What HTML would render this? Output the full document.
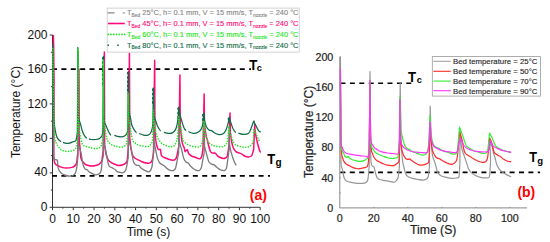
<!DOCTYPE html><html><head><meta charset="utf-8"><style>html,body{margin:0;padding:0;background:#fff;}svg{display:block;}text{font-family:"Liberation Sans",sans-serif;}</style></head><body>
<svg width="550" height="242" viewBox="0 0 550 242">
<rect width="550" height="242" fill="#fff"/>
<defs><mask id="dgmask" maskUnits="userSpaceOnUse" x="0" y="0" width="550" height="242"><rect width="550" height="242" fill="#fff"/><rect x="61.20" y="137.80" width="1.80" height="8" fill="#000"/><rect x="87.00" y="134.80" width="2.00" height="8" fill="#000"/><rect x="111.00" y="131.20" width="3.30" height="8" fill="#000"/><rect x="136.60" y="129.20" width="2.50" height="8" fill="#000"/><rect x="160.80" y="127.50" width="3.10" height="8" fill="#000"/><rect x="186.20" y="127.30" width="2.20" height="8" fill="#000"/><rect x="235.90" y="129.00" width="2.40" height="8" fill="#000"/></mask></defs>
<g stroke="#333" stroke-width="1" fill="none">
<path d="M52.50 35.00 V207.30 H260.20"/>
<path d="M49.70 207.30 H52.50"/>
<path d="M49.70 172.84 H52.50"/>
<path d="M49.70 138.38 H52.50"/>
<path d="M49.70 103.92 H52.50"/>
<path d="M49.70 69.46 H52.50"/>
<path d="M49.70 35.00 H52.50"/>
<path d="M50.90 190.07 H52.50"/>
<path d="M50.90 155.61 H52.50"/>
<path d="M50.90 121.15 H52.50"/>
<path d="M50.90 86.69 H52.50"/>
<path d="M50.90 52.23 H52.50"/>
<path d="M52.50 207.30 V210.20"/>
<path d="M73.27 207.30 V210.20"/>
<path d="M94.04 207.30 V210.20"/>
<path d="M114.81 207.30 V210.20"/>
<path d="M135.58 207.30 V210.20"/>
<path d="M156.35 207.30 V210.20"/>
<path d="M177.12 207.30 V210.20"/>
<path d="M197.89 207.30 V210.20"/>
<path d="M218.66 207.30 V210.20"/>
<path d="M239.43 207.30 V210.20"/>
<path d="M260.20 207.30 V210.20"/>
<path d="M62.88 207.30 V208.70"/>
<path d="M83.66 207.30 V208.70"/>
<path d="M104.42 207.30 V208.70"/>
<path d="M125.19 207.30 V208.70"/>
<path d="M145.97 207.30 V208.70"/>
<path d="M166.74 207.30 V208.70"/>
<path d="M187.50 207.30 V208.70"/>
<path d="M208.28 207.30 V208.70"/>
<path d="M229.04 207.30 V208.70"/>
<path d="M249.81 207.30 V208.70"/>
</g>
<g stroke="#000" stroke-width="1.8" fill="none" stroke-dasharray="5 4.39">
<path d="M52 69.10 H251"/>
<path d="M52 175.90 H270"/>
</g>
<g fill="none" stroke-linejoin="round" stroke-linecap="round">
<path d="M53.45 35.50 C53.55 42.92 53.95 72.58 54.05 80.00 C54.01 91.67 53.81 137.00 53.80 150.00 C53.79 163.00 53.90 156.00 54.00 158.00 C54.10 160.00 54.13 160.97 54.40 162.00 C54.67 163.03 55.08 163.62 55.60 164.20 C56.12 164.78 56.57 165.02 57.50 165.50 C58.43 165.98 59.77 166.68 61.20 167.10 C62.63 167.52 64.33 167.95 66.10 168.00 C67.87 168.05 70.30 167.80 71.80 167.40 C73.30 167.00 74.28 166.43 75.10 165.60 C75.92 164.77 76.24 164.67 76.70 162.40 C77.16 160.13 77.66 153.73 77.85 152.00 C78.03 138.17 78.77 82.83 78.95 69.00 C79.00 80.83 79.20 128.17 79.25 140.00 C79.44 142.00 80.14 149.08 80.40 152.00 C80.66 154.92 80.60 156.17 80.80 157.50 C81.00 158.83 81.27 159.28 81.60 160.00 C81.93 160.72 82.18 161.08 82.80 161.80 C83.42 162.52 84.37 163.68 85.30 164.30 C86.23 164.92 87.27 165.22 88.40 165.50 C89.53 165.78 90.87 166.00 92.10 166.00 C93.33 166.00 94.67 165.78 95.80 165.50 C96.93 165.22 98.07 164.82 98.90 164.30 C99.73 163.78 100.28 163.13 100.80 162.40 C101.32 161.67 101.59 161.97 102.00 159.90 C102.41 157.83 103.04 151.65 103.25 150.00 C103.43 133.67 104.17 68.33 104.35 52.00 C104.40 67.50 104.60 129.50 104.65 145.00 C104.81 146.17 105.31 150.25 105.60 152.00 C105.89 153.75 106.13 154.57 106.40 155.50 C106.67 156.43 106.87 156.80 107.20 157.60 C107.53 158.40 107.78 159.50 108.40 160.30 C109.02 161.10 109.87 161.73 110.90 162.40 C111.93 163.07 113.37 163.80 114.60 164.30 C115.83 164.80 117.05 165.30 118.30 165.40 C119.55 165.50 120.95 165.20 122.10 164.90 C123.25 164.60 124.38 164.22 125.20 163.60 C126.02 162.98 126.60 162.43 127.00 161.20 C127.40 159.97 127.38 158.40 127.60 156.20 C127.82 154.00 128.22 149.37 128.35 148.00 C128.53 132.20 129.27 69.00 129.45 53.20 C129.50 67.33 129.70 123.87 129.75 138.00 C129.88 139.00 130.28 142.12 130.50 144.00 C130.72 145.88 130.77 147.45 131.10 149.30 C131.43 151.15 131.90 153.65 132.50 155.10 C133.10 156.55 133.85 157.25 134.70 158.00 C135.55 158.75 136.40 158.98 137.60 159.60 C138.80 160.22 140.45 161.12 141.90 161.70 C143.35 162.28 145.08 162.87 146.30 163.10 C147.52 163.33 148.35 163.33 149.20 163.10 C150.05 162.87 150.80 162.55 151.40 161.70 C152.00 160.85 152.44 159.78 152.80 158.00 C153.16 156.22 153.42 152.17 153.55 151.00 C153.73 135.87 154.47 75.33 154.65 60.20 C154.70 71.50 154.90 116.70 154.95 128.00 C155.04 129.67 155.26 135.33 155.50 138.00 C155.74 140.67 156.08 142.40 156.40 144.00 C156.72 145.60 157.07 146.72 157.40 147.60 C157.73 148.48 158.03 149.00 158.40 149.30 C158.77 149.60 159.28 149.40 159.60 149.40 C159.92 149.40 160.10 148.87 160.30 149.30 C160.50 149.73 160.58 150.95 160.80 152.00 C161.02 153.05 161.03 154.68 161.60 155.60 C162.17 156.52 163.05 156.90 164.20 157.50 C165.35 158.10 167.05 158.73 168.50 159.20 C169.95 159.67 171.75 160.28 172.90 160.30 C174.05 160.32 174.75 159.97 175.40 159.30 C176.05 158.63 176.23 158.52 176.80 156.30 C177.38 154.08 178.51 147.72 178.85 146.00 C179.03 134.17 179.77 86.83 179.95 75.00 C180.00 83.33 180.20 116.67 180.25 125.00 C180.41 126.67 180.94 132.50 181.20 135.00 C181.46 137.50 181.57 138.48 181.80 140.00 C182.03 141.52 182.22 142.87 182.60 144.10 C182.98 145.33 183.70 146.18 184.10 147.40 C184.50 148.62 184.72 150.83 185.00 151.40 C185.28 151.97 185.40 151.05 185.80 150.80 C186.20 150.55 186.97 149.52 187.40 149.90 C187.83 150.28 187.97 152.27 188.40 153.10 C188.83 153.93 189.32 154.33 190.00 154.90 C190.68 155.47 191.53 156.07 192.50 156.50 C193.47 156.93 194.70 157.12 195.80 157.50 C196.90 157.88 198.27 158.68 199.10 158.80 C199.93 158.92 200.30 158.85 200.80 158.20 C201.30 157.55 201.72 156.77 202.10 154.90 C202.47 153.03 202.89 148.32 203.05 147.00 C203.23 138.17 203.97 102.83 204.15 94.00 C204.20 99.17 204.40 119.83 204.45 125.00 C204.74 126.83 205.72 133.45 206.20 136.00 C206.67 138.55 206.93 138.87 207.30 140.30 C207.67 141.73 208.03 143.17 208.40 144.60 C208.77 146.03 209.15 147.73 209.50 148.90 C209.85 150.07 210.07 150.92 210.50 151.60 C210.93 152.28 211.47 152.75 212.10 153.00 C212.73 153.25 213.67 152.97 214.30 153.10 C214.93 153.23 215.37 153.33 215.90 153.80 C216.43 154.27 216.78 155.28 217.50 155.90 C218.22 156.52 219.22 157.08 220.20 157.50 C221.18 157.92 222.50 158.32 223.40 158.40 C224.30 158.48 224.97 158.33 225.60 158.00 C226.23 157.67 226.80 157.38 227.20 156.40 C227.60 155.42 227.71 153.83 228.00 152.10 C228.29 150.37 228.79 147.02 228.95 146.00 C229.13 140.50 229.87 118.50 230.05 113.00 C230.10 116.17 230.30 128.83 230.35 132.00 C230.56 133.58 231.11 138.87 231.60 141.50 C232.09 144.13 232.58 146.10 233.30 147.80 C234.02 149.50 234.83 150.82 235.90 151.70 C236.97 152.58 238.63 152.65 239.70 153.10 C240.77 153.55 241.43 153.88 242.30 154.40 C243.17 154.92 243.83 155.78 244.90 156.20 C245.97 156.62 247.57 157.00 248.70 156.90 C249.83 156.80 250.88 156.82 251.70 155.60 C252.52 154.38 253.32 150.60 253.65 149.60 C253.83 145.42 254.57 128.68 254.75 124.50 C254.80 125.58 255.00 129.92 255.05 131.00 C255.28 132.23 255.91 136.07 256.40 138.40 C256.89 140.73 257.45 142.93 258.00 145.00 C258.55 147.07 259.32 149.63 259.70 150.80 C260.08 151.97 260.20 151.80 260.30 152.00" stroke="#ff0a78" stroke-width="1.5"/>
<path d="M52.60 48.00 C52.73 63.33 53.27 124.67 53.40 140.00 C53.42 142.50 53.42 151.87 53.50 155.00 C53.58 158.13 53.65 158.05 53.90 158.80 C54.15 159.55 54.57 159.33 55.00 159.50 C55.43 159.67 56.10 159.63 56.50 159.80 C56.90 159.97 57.20 159.88 57.40 160.50 C57.60 161.12 57.62 162.42 57.70 163.50 C57.78 164.58 57.75 166.05 57.90 167.00 C58.05 167.95 58.27 168.43 58.60 169.20 C58.93 169.97 59.27 170.80 59.90 171.60 C60.53 172.40 61.37 173.35 62.40 174.00 C63.43 174.65 64.85 175.15 66.10 175.50 C67.35 175.85 68.77 176.10 69.90 176.10 C71.03 176.10 71.98 176.02 72.90 175.50 C73.82 174.98 74.75 174.40 75.40 173.00 C76.05 171.60 76.38 169.77 76.80 167.10 C77.22 164.43 77.72 158.68 77.90 157.00 C77.93 139.50 78.07 69.50 78.10 52.00 C78.13 67.50 78.27 129.50 78.30 145.00 C78.72 146.17 80.25 150.13 80.80 152.00 C81.35 153.87 81.27 154.27 81.60 156.20 C81.93 158.13 82.40 161.75 82.80 163.60 C83.20 165.45 83.58 166.37 84.00 167.30 C84.42 168.23 84.77 168.78 85.30 169.20 C85.83 169.62 86.58 169.38 87.20 169.80 C87.82 170.22 88.38 171.18 89.00 171.70 C89.62 172.22 90.18 172.48 90.90 172.90 C91.62 173.32 92.48 173.88 93.30 174.20 C94.12 174.52 94.97 174.80 95.80 174.80 C96.63 174.80 97.57 174.52 98.30 174.20 C99.03 173.88 99.68 173.73 100.20 172.90 C100.72 172.07 101.10 170.95 101.40 169.20 C101.70 167.45 101.68 164.60 102.00 162.40 C102.32 160.20 103.08 157.07 103.30 156.00 C103.33 140.33 103.47 77.67 103.50 62.00 C103.53 75.33 103.67 128.67 103.70 142.00 C104.05 143.42 105.32 148.33 105.80 150.50 C106.28 152.67 106.27 153.12 106.60 155.00 C106.93 156.88 107.38 159.97 107.80 161.80 C108.22 163.63 108.58 165.08 109.10 166.00 C109.62 166.92 110.18 166.88 110.90 167.30 C111.62 167.72 112.67 168.08 113.40 168.50 C114.13 168.92 114.68 169.28 115.30 169.80 C115.92 170.32 116.38 171.18 117.10 171.60 C117.82 172.02 118.77 172.10 119.60 172.30 C120.43 172.50 121.38 172.80 122.10 172.80 C122.82 172.80 123.28 172.80 123.90 172.30 C124.52 171.80 125.28 171.03 125.80 169.80 C126.32 168.57 126.60 166.97 127.00 164.90 C127.40 162.83 128.00 158.65 128.20 157.40 C128.23 144.17 128.37 91.23 128.40 78.00 C128.43 88.33 128.57 129.67 128.60 140.00 C129.00 141.33 130.47 145.97 131.00 148.00 C131.53 150.03 131.43 150.05 131.80 152.20 C132.17 154.35 132.72 158.97 133.20 160.90 C133.68 162.83 134.08 163.07 134.70 163.80 C135.32 164.53 136.18 165.02 136.90 165.30 C137.62 165.58 138.40 165.13 139.00 165.50 C139.60 165.87 139.77 166.82 140.50 167.50 C141.23 168.18 142.43 169.00 143.40 169.60 C144.37 170.20 145.45 170.73 146.30 171.10 C147.15 171.47 147.78 171.92 148.50 171.80 C149.22 171.68 150.00 171.37 150.60 170.40 C151.20 169.43 151.73 167.82 152.10 166.00 C152.47 164.18 152.53 161.83 152.80 159.50 C153.07 157.17 153.55 153.25 153.70 152.00 C153.73 142.50 153.87 104.50 153.90 95.00 C153.93 102.83 154.07 134.17 154.10 142.00 C154.42 143.58 155.42 148.73 156.00 151.50 C156.58 154.27 156.97 156.68 157.60 158.60 C158.23 160.52 158.98 161.98 159.80 163.00 C160.62 164.02 161.77 164.23 162.50 164.70 C163.23 165.17 163.55 165.25 164.20 165.80 C164.85 166.35 165.50 167.28 166.40 168.00 C167.30 168.72 168.52 169.67 169.60 170.10 C170.68 170.53 171.93 170.85 172.90 170.60 C173.87 170.35 174.75 169.95 175.40 168.60 C176.05 167.25 176.27 165.05 176.80 162.50 C177.33 159.95 178.30 154.83 178.60 153.30 C178.63 146.92 178.77 121.38 178.80 115.00 C178.83 119.17 178.97 135.83 179.00 140.00 C179.53 142.03 181.40 149.10 182.20 152.20 C183.00 155.30 183.17 156.97 183.80 158.60 C184.43 160.23 185.27 161.25 186.00 162.00 C186.73 162.75 187.57 162.57 188.20 163.10 C188.83 163.63 189.08 164.38 189.80 165.20 C190.52 166.02 191.50 167.18 192.50 168.00 C193.50 168.82 194.70 169.67 195.80 170.10 C196.90 170.53 198.20 170.93 199.10 170.60 C200.00 170.27 200.63 169.62 201.20 168.10 C201.77 166.58 202.02 163.97 202.50 161.50 C202.98 159.03 203.83 154.67 204.10 153.30 C204.13 148.08 204.27 127.22 204.30 122.00 C204.33 126.00 204.47 142.00 204.50 146.00 C204.95 147.73 206.43 153.70 207.20 156.40 C207.97 159.10 208.35 160.90 209.10 162.20 C209.85 163.50 210.85 163.75 211.70 164.20 C212.55 164.65 213.35 164.38 214.20 164.90 C215.05 165.42 215.73 166.47 216.80 167.30 C217.87 168.13 219.32 169.37 220.60 169.90 C221.88 170.43 223.55 170.72 224.50 170.50 C225.45 170.28 225.78 170.18 226.30 168.60 C226.82 167.02 227.13 164.10 227.60 161.00 C228.07 157.90 228.85 151.83 229.10 150.00 C229.13 146.33 229.27 131.67 229.30 128.00 C229.33 130.67 229.47 141.33 229.50 144.00 C229.73 145.23 230.35 149.10 230.90 151.40 C231.45 153.70 232.17 155.90 232.80 157.80 C233.43 159.70 234.17 161.62 234.70 162.80 C235.23 163.98 235.78 164.55 236.00 164.90" stroke="#7a7a7a" stroke-width="1.3"/>
<path d="M52.70 44.20 C52.88 56.50 53.62 105.70 53.80 118.00 C53.92 119.25 54.13 122.82 54.50 125.50 C54.87 128.18 55.48 131.95 56.00 134.10 C56.52 136.25 56.87 137.22 57.60 138.40 C58.33 139.58 59.48 140.53 60.40 141.20 C61.32 141.87 62.10 142.03 63.10 142.40 C64.10 142.77 65.32 143.28 66.40 143.40 C67.48 143.52 68.52 143.37 69.60 143.10 C70.68 142.83 71.85 142.25 72.90 141.80 C73.95 141.35 75.15 142.03 75.90 140.40 C76.65 138.77 77.15 133.40 77.40 132.00 C77.48 117.92 77.82 61.58 77.90 47.50 C77.98 59.25 78.32 106.25 78.40 118.00 C78.77 119.07 79.97 122.27 80.60 124.40 C81.23 126.53 81.48 128.82 82.20 130.80 C82.92 132.78 84.00 135.03 84.90 136.30 C85.80 137.57 86.50 137.87 87.60 138.40 C88.70 138.93 90.13 139.32 91.50 139.50 C92.87 139.68 94.45 139.68 95.80 139.50 C97.15 139.32 98.53 139.10 99.60 138.40 C100.67 137.70 101.63 137.03 102.20 135.30 C102.77 133.57 102.87 129.22 103.00 128.00 C103.08 116.07 103.42 68.33 103.50 56.40 C103.58 67.17 103.92 110.23 104.00 121.00 C104.20 121.52 104.83 123.27 105.20 124.10 C105.57 124.93 105.82 125.13 106.20 126.00 C106.58 126.87 107.00 128.17 107.50 129.30 C108.00 130.43 108.62 131.83 109.20 132.80 C109.78 133.77 110.12 134.67 111.00 135.10 C111.88 135.53 113.45 135.20 114.50 135.40 C115.55 135.60 116.15 136.05 117.30 136.30 C118.45 136.55 120.13 137.00 121.40 136.90 C122.67 136.80 123.93 136.38 124.90 135.70 C125.87 135.02 126.70 134.08 127.20 132.80 C127.70 131.52 127.78 128.80 127.90 128.00 C127.98 118.55 128.32 80.75 128.40 71.30 C128.48 78.08 128.82 105.22 128.90 112.00 C129.18 113.05 130.13 116.18 130.60 118.30 C131.07 120.42 131.17 122.90 131.70 124.70 C132.23 126.50 133.00 127.78 133.80 129.10 C134.60 130.42 135.58 131.87 136.50 132.60 C137.42 133.33 138.12 133.08 139.30 133.50 C140.48 133.92 142.15 134.83 143.60 135.10 C145.05 135.37 146.83 135.45 148.00 135.10 C149.17 134.75 149.88 134.17 150.60 133.00 C151.32 131.83 151.92 129.93 152.30 128.10 C152.68 126.27 152.80 123.02 152.90 122.00 C152.98 116.33 153.32 93.67 153.40 88.00 C153.48 92.67 153.82 111.33 153.90 116.00 C154.23 116.90 155.28 119.68 155.90 121.40 C156.52 123.12 156.85 124.77 157.60 126.30 C158.35 127.83 159.30 129.60 160.40 130.60 C161.50 131.60 162.85 131.83 164.20 132.30 C165.55 132.77 167.13 133.30 168.50 133.40 C169.87 133.50 171.23 133.53 172.40 132.90 C173.57 132.27 174.70 131.05 175.50 129.60 C176.30 128.15 176.73 126.47 177.20 124.20 C177.67 121.93 178.12 117.37 178.30 116.00 C178.38 114.52 178.72 108.58 178.80 107.10 C178.88 107.92 179.22 111.18 179.30 112.00 C179.50 112.73 179.93 114.38 180.50 116.40 C181.07 118.42 181.97 121.92 182.70 124.10 C183.43 126.28 183.90 128.23 184.90 129.50 C185.90 130.77 187.25 131.05 188.70 131.70 C190.15 132.35 192.05 133.30 193.60 133.40 C195.15 133.50 196.73 133.02 198.00 132.30 C199.27 131.58 200.40 130.45 201.20 129.10 C202.00 127.75 202.40 126.38 202.80 124.20 C203.20 122.02 203.47 117.37 203.60 116.00 C203.68 115.50 204.02 113.50 204.10 113.00 C204.18 114.33 204.52 119.67 204.60 121.00 C204.90 121.95 205.67 125.22 206.40 126.70 C207.13 128.18 208.15 129.25 209.00 129.90 C209.85 130.55 210.65 130.17 211.50 130.60 C212.35 131.03 213.02 131.87 214.10 132.50 C215.18 133.13 216.50 134.20 218.00 134.40 C219.50 134.60 221.73 134.53 223.10 133.70 C224.47 132.87 225.25 131.52 226.20 129.40 C227.15 127.28 228.37 122.40 228.80 121.00 C228.88 120.37 229.22 117.83 229.30 117.20 C229.38 117.67 229.72 119.53 229.80 120.00 C230.07 120.70 230.82 122.65 231.40 124.20 C231.98 125.75 232.55 127.92 233.30 129.30 C234.05 130.68 235.03 131.85 235.90 132.50 C236.77 133.15 237.22 132.88 238.50 133.20 C239.78 133.52 241.90 134.40 243.60 134.40 C245.30 134.40 247.43 134.25 248.70 133.20 C249.97 132.15 250.40 130.02 251.20 128.10 C252.00 126.18 253.12 122.77 253.50 121.70 C253.58 121.58 253.92 121.12 254.00 121.00 C254.08 121.33 254.42 122.67 254.50 123.00 C254.93 123.83 256.35 126.63 257.10 128.00 C257.85 129.37 258.47 130.55 259.00 131.20 C259.53 131.85 260.08 131.78 260.30 131.90" stroke="#0f6a45" stroke-width="1.25" mask="url(#dgmask)"/>
<path d="M103.00 57.00 V87.00 M128.00 72.00 V94.00 M153.00 88.50 V104.50 M178.30 107.50 V118.50 M203.00 114.00 V122.00 M228.70 117.80 V122.80" stroke="#0f6a45" stroke-width="1.9" stroke-dasharray="2.6 1.6" stroke-linecap="butt"/>
<path d="M52.80 48.60 C53.00 61.33 53.80 112.27 54.00 125.00 C54.15 127.17 54.52 134.95 54.90 138.00 C55.28 141.05 55.75 141.88 56.30 143.30 C56.85 144.72 57.43 145.43 58.20 146.50 C58.97 147.57 59.90 148.97 60.90 149.70 C61.90 150.43 63.02 150.62 64.20 150.90 C65.38 151.18 66.73 151.40 68.00 151.40 C69.27 151.40 70.63 151.25 71.80 150.90 C72.97 150.55 74.20 150.20 75.00 149.30 C75.80 148.40 76.18 147.38 76.60 145.50 C77.02 143.62 77.35 139.25 77.50 138.00 C77.58 123.17 77.92 63.83 78.00 49.00 C78.08 60.83 78.42 108.17 78.50 120.00 C78.75 122.33 79.33 129.97 80.00 134.00 C80.67 138.03 81.50 142.13 82.50 144.20 C83.50 146.27 84.68 145.83 86.00 146.40 C87.32 146.97 88.95 147.23 90.40 147.60 C91.85 147.97 93.35 148.50 94.70 148.60 C96.05 148.70 97.42 148.72 98.50 148.20 C99.58 147.68 100.48 147.20 101.20 145.50 C101.92 143.80 102.53 139.25 102.80 138.00 C102.88 125.00 103.22 73.00 103.30 60.00 C103.38 70.33 103.72 111.67 103.80 122.00 C104.17 124.08 105.37 131.40 106.00 134.50 C106.63 137.60 106.97 139.12 107.60 140.60 C108.23 142.08 108.88 142.58 109.80 143.40 C110.72 144.22 111.82 144.97 113.10 145.50 C114.38 146.03 116.05 146.32 117.50 146.60 C118.95 146.88 120.55 147.37 121.80 147.20 C123.05 147.03 124.20 146.40 125.00 145.60 C125.80 144.80 126.15 144.17 126.60 142.40 C127.05 140.63 127.52 136.23 127.70 135.00 C127.78 128.00 128.12 100.00 128.20 93.00 C128.28 97.50 128.62 115.50 128.70 120.00 C129.08 122.00 130.33 128.60 131.00 132.00 C131.67 135.40 132.05 138.60 132.70 140.40 C133.35 142.20 133.98 142.03 134.90 142.80 C135.82 143.57 136.75 144.43 138.20 145.00 C139.65 145.57 141.97 145.93 143.60 146.20 C145.23 146.47 146.83 146.88 148.00 146.60 C149.17 146.32 149.88 145.38 150.60 144.50 C151.32 143.62 151.93 143.05 152.30 141.30 C152.67 139.55 152.72 135.22 152.80 134.00 C152.88 130.00 153.22 114.00 153.30 110.00 C153.38 111.67 153.72 118.33 153.80 120.00 C154.23 122.37 155.58 130.92 156.40 134.20 C157.22 137.48 157.77 138.15 158.70 139.70 C159.63 141.25 160.72 142.50 162.00 143.50 C163.28 144.50 164.95 145.15 166.40 145.70 C167.85 146.25 169.43 146.78 170.70 146.80 C171.97 146.82 173.10 146.52 174.00 145.80 C174.90 145.08 175.55 143.87 176.10 142.50 C176.65 141.13 176.95 140.02 177.30 137.60 C177.65 135.18 178.05 129.60 178.20 128.00 C178.28 126.17 178.62 118.83 178.70 117.00 C178.78 117.50 179.12 119.50 179.20 120.00 C179.50 121.67 180.42 126.90 181.00 130.00 C181.58 133.10 182.05 136.53 182.70 138.60 C183.35 140.67 183.80 141.30 184.90 142.40 C186.00 143.50 187.67 144.47 189.30 145.20 C190.93 145.93 193.07 146.53 194.70 146.80 C196.33 147.07 198.02 147.15 199.10 146.80 C200.18 146.45 200.58 145.87 201.20 144.70 C201.82 143.53 202.43 142.25 202.80 139.80 C203.17 137.35 203.30 131.63 203.40 130.00 C203.48 128.50 203.82 122.50 203.90 121.00 C203.98 122.17 204.32 126.83 204.40 128.00 C204.73 129.60 205.63 135.15 206.40 137.60 C207.17 140.05 207.93 141.42 209.00 142.70 C210.07 143.98 211.32 144.65 212.80 145.30 C214.28 145.95 216.18 146.38 217.90 146.60 C219.62 146.82 221.72 147.02 223.10 146.60 C224.48 146.18 225.45 145.17 226.20 144.10 C226.95 143.03 227.23 142.22 227.60 140.20 C227.97 138.18 228.27 133.37 228.40 132.00 C228.48 131.00 228.82 127.00 228.90 126.00 C228.98 126.67 229.32 129.33 229.40 130.00 C229.83 131.48 231.13 136.57 232.00 138.90 C232.87 141.23 233.52 142.83 234.60 144.00 C235.68 145.17 237.00 145.37 238.50 145.90 C240.00 146.43 241.90 147.07 243.60 147.20 C245.30 147.33 247.33 147.22 248.70 146.70 C250.07 146.18 250.98 145.38 251.80 144.10 C252.62 142.82 253.32 141.02 253.60 139.00 C253.88 136.98 253.52 133.17 253.50 132.00 C253.58 131.50 253.92 129.50 254.00 129.00 C254.08 129.33 254.42 130.67 254.50 131.00 C255.03 132.10 256.85 135.73 257.70 137.60 C258.55 139.47 259.28 141.43 259.60 142.20" stroke="#22e622" stroke-width="1.6" stroke-dasharray="0.1 2.6"/>
</g>
<text x="47.50" y="210.90" font-size="12.00" fill="#111" text-anchor="end" font-weight="normal" >0</text>
<text x="47.50" y="176.44" font-size="12.00" fill="#111" text-anchor="end" font-weight="normal" >40</text>
<text x="47.50" y="141.98" font-size="12.00" fill="#111" text-anchor="end" font-weight="normal" >80</text>
<text x="47.50" y="107.52" font-size="12.00" fill="#111" text-anchor="end" font-weight="normal" >120</text>
<text x="47.50" y="73.06" font-size="12.00" fill="#111" text-anchor="end" font-weight="normal" >160</text>
<text x="47.50" y="38.60" font-size="12.00" fill="#111" text-anchor="end" font-weight="normal" >200</text>
<text x="52.50" y="222.60" font-size="12.00" fill="#111" text-anchor="middle" font-weight="normal" >0</text>
<text x="73.27" y="222.60" font-size="12.00" fill="#111" text-anchor="middle" font-weight="normal" >10</text>
<text x="94.04" y="222.60" font-size="12.00" fill="#111" text-anchor="middle" font-weight="normal" >20</text>
<text x="114.81" y="222.60" font-size="12.00" fill="#111" text-anchor="middle" font-weight="normal" >30</text>
<text x="135.58" y="222.60" font-size="12.00" fill="#111" text-anchor="middle" font-weight="normal" >40</text>
<text x="156.35" y="222.60" font-size="12.00" fill="#111" text-anchor="middle" font-weight="normal" >50</text>
<text x="177.12" y="222.60" font-size="12.00" fill="#111" text-anchor="middle" font-weight="normal" >60</text>
<text x="197.89" y="222.60" font-size="12.00" fill="#111" text-anchor="middle" font-weight="normal" >70</text>
<text x="218.66" y="222.60" font-size="12.00" fill="#111" text-anchor="middle" font-weight="normal" >80</text>
<text x="239.43" y="222.60" font-size="12.00" fill="#111" text-anchor="middle" font-weight="normal" >90</text>
<text x="260.20" y="222.60" font-size="12.00" fill="#111" text-anchor="middle" font-weight="normal" >100</text>
<text x="148.50" y="235.70" font-size="12.00" fill="#111" text-anchor="middle" font-weight="normal" >Time (s)</text>
<text x="0.00" y="0.00" font-size="12.00" fill="#111" text-anchor="middle" font-weight="normal" transform="translate(19.9,112.0) rotate(-90)">Temperature (°C)</text>
<text transform="translate(249.15,69.80) scale(0.850,1)" font-size="15.50" font-weight="bold" fill="#000">T</text><text x="256.85" y="70.90" font-size="9.20" font-weight="bold" fill="#000">c</text>
<text transform="translate(267.15,163.60) scale(0.900,1)" font-size="14.50" font-weight="bold" fill="#000">T</text><text x="275.60" y="165.70" font-size="10.00" font-weight="bold" fill="#000">g</text>
<text x="249.8" y="199.8" font-size="14" font-weight="bold" fill="#ff0000">(a)</text>
<rect x="107.2" y="8.1" width="192" height="44" fill="#fff" stroke="#c8c8c8" stroke-width="0.8"/>
<path d="M107.6 12.80 H114.5 M122.8 12.80 H124.6" stroke="#858585" stroke-width="1.3"/>
<text x="127.0" y="15.30" font-size="7.45" fill="#858585" stroke="#858585" stroke-width="0.12">T<tspan font-size="4.9" dy="1.6">Bed</tspan><tspan dy="-1.6"> 25°C, h= 0.1 mm, V = 15 mm/s, T</tspan><tspan font-size="4.9" dy="1.6">nozzle</tspan><tspan dy="-1.6"> = 240 °C</tspan></text>
<path d="M108 23.50 H124.8" stroke="#ff0a78" stroke-width="1.6"/>
<text x="127.0" y="26.00" font-size="7.45" fill="#ff0a78" stroke="#ff0a78" stroke-width="0.12">T<tspan font-size="4.9" dy="1.6">Bed</tspan><tspan dy="-1.6"> 45°C, h= 0.1 mm, V = 15 mm/s, T</tspan><tspan font-size="4.9" dy="1.6">nozzle</tspan><tspan dy="-1.6"> = 240 °C</tspan></text>
<path d="M108.2 34.40 H124.8" stroke="#22e622" stroke-width="1.7" stroke-dasharray="0.1 2.65" stroke-linecap="round"/>
<text x="127.0" y="36.90" font-size="7.45" fill="#22e622" stroke="#22e622" stroke-width="0.12">T<tspan font-size="4.9" dy="1.6">Bed</tspan><tspan dy="-1.6"> 60°C, h= 0.1 mm, V = 15 mm/s, T</tspan><tspan font-size="4.9" dy="1.6">nozzle</tspan><tspan dy="-1.6"> = 240 °C</tspan></text>
<path d="M107.6 45.20 H109 M117.2 45.20 H118.8" stroke="#0f6a45" stroke-width="1.5"/>
<text x="127.0" y="47.70" font-size="7.45" fill="#0f6a45" stroke="#0f6a45" stroke-width="0.12">T<tspan font-size="4.9" dy="1.6">Bed</tspan><tspan dy="-1.6"> 80°C, h= 0.1 mm, V = 15 mm/s, T</tspan><tspan font-size="4.9" dy="1.6">nozzle</tspan><tspan dy="-1.6"> = 240 °C</tspan></text>
<g stroke="#7a7a7a" stroke-width="0.9" fill="none">
<path d="M339.80 57.00 V207.90 H527.00"/>
<path d="M339.80 57.00 H341.00"/>
<path d="M339.80 192.81 H340.90" stroke-width="0.7"/>
<path d="M339.80 177.72 H340.90" stroke-width="0.7"/>
<path d="M339.80 162.63 H340.90" stroke-width="0.7"/>
<path d="M339.80 147.54 H340.90" stroke-width="0.7"/>
<path d="M339.80 132.45 H340.90" stroke-width="0.7"/>
<path d="M339.80 117.36 H340.90" stroke-width="0.7"/>
<path d="M339.80 102.27 H340.90" stroke-width="0.7"/>
<path d="M339.80 87.18 H340.90" stroke-width="0.7"/>
<path d="M339.80 72.09 H340.90" stroke-width="0.7"/>
<path d="M339.80 57.00 H340.90" stroke-width="0.7"/>
<path d="M373.80 207.90 V206.80" stroke-width="0.7"/>
<path d="M407.80 207.90 V206.80" stroke-width="0.7"/>
<path d="M441.80 207.90 V206.80" stroke-width="0.7"/>
<path d="M475.80 207.90 V206.80" stroke-width="0.7"/>
<path d="M509.80 207.90 V206.80" stroke-width="0.7"/>
</g>
<g stroke="#000" stroke-width="1.6" fill="none" stroke-dasharray="5 4.4">
<path d="M340.5 83.3 H411.8"/>
<path d="M340.4 172.4 H540"/>
</g>
<g fill="none" stroke-linejoin="round" stroke-linecap="round" stroke-width="1.2">
<path d="M340.40 57.30 C340.47 67.75 340.73 109.55 340.80 120.00 C340.83 126.67 340.88 152.25 341.00 160.00 C341.12 167.75 341.28 165.00 341.50 166.50 C341.72 168.00 342.07 168.17 342.30 169.00 C342.53 169.83 342.70 170.42 342.90 171.50 C343.10 172.58 343.20 174.25 343.50 175.50 C343.80 176.75 344.13 178.05 344.70 179.00 C345.27 179.95 345.80 180.65 346.90 181.20 C348.00 181.75 349.48 181.95 351.30 182.30 C353.12 182.65 355.80 183.13 357.80 183.30 C359.80 183.47 361.87 183.47 363.30 183.30 C364.73 183.13 365.63 182.93 366.40 182.30 C367.17 181.67 367.53 181.05 367.90 179.50 C368.27 177.95 368.38 175.25 368.60 173.00 C368.82 170.75 369.10 167.17 369.20 166.00 C369.33 150.25 369.87 87.25 370.00 71.50 C370.07 82.92 370.33 128.58 370.40 140.00 C370.47 143.00 370.65 154.00 370.80 158.00 C370.95 162.00 371.02 162.63 371.30 164.00 C371.58 165.37 372.05 165.70 372.50 166.20 C372.95 166.70 373.60 166.28 374.00 167.00 C374.40 167.72 374.53 169.08 374.90 170.50 C375.27 171.92 375.75 174.20 376.20 175.50 C376.65 176.80 377.03 177.63 377.60 178.30 C378.17 178.97 378.35 179.12 379.60 179.50 C380.85 179.88 383.28 180.25 385.10 180.60 C386.92 180.95 388.92 181.33 390.50 181.60 C392.08 181.87 393.57 182.43 394.60 182.20 C395.63 181.97 396.10 181.07 396.70 180.20 C397.30 179.33 397.83 178.45 398.20 177.00 C398.57 175.55 398.70 173.33 398.90 171.50 C399.10 169.67 399.32 166.92 399.40 166.00 C399.53 152.18 400.07 96.92 400.20 83.10 C400.30 90.92 400.70 122.18 400.80 130.00 C400.93 133.33 401.28 144.70 401.60 150.00 C401.92 155.30 402.33 159.05 402.70 161.80 C403.07 164.55 403.47 165.05 403.80 166.50 C404.13 167.95 404.33 169.15 404.70 170.50 C405.07 171.85 405.42 173.55 406.00 174.60 C406.58 175.65 407.12 176.17 408.20 176.80 C409.28 177.43 410.87 177.95 412.50 178.40 C414.13 178.85 416.17 179.22 418.00 179.50 C419.83 179.78 422.07 180.17 423.50 180.10 C424.93 180.03 425.82 179.70 426.60 179.10 C427.38 178.50 427.82 177.77 428.20 176.50 C428.58 175.23 428.70 173.25 428.90 171.50 C429.10 169.75 429.32 166.92 429.40 166.00 C429.53 156.03 430.07 116.17 430.20 106.20 C430.32 111.00 430.78 130.20 430.90 135.00 C431.03 137.17 431.40 144.42 431.70 148.00 C432.00 151.58 432.25 154.32 432.70 156.50 C433.15 158.68 433.85 159.45 434.40 161.10 C434.95 162.75 435.47 164.53 436.00 166.40 C436.53 168.27 436.78 170.75 437.60 172.30 C438.42 173.85 439.43 174.85 440.90 175.70 C442.37 176.55 444.58 176.95 446.40 177.40 C448.22 177.85 450.13 178.30 451.80 178.40 C453.47 178.50 455.22 178.25 456.40 178.00 C457.58 177.75 458.38 178.07 458.90 176.90 C459.42 175.73 459.33 173.48 459.50 171.00 C459.67 168.52 459.83 163.50 459.90 162.00 C459.90 156.50 459.90 134.50 459.90 129.00 C460.07 130.83 460.73 138.17 460.90 140.00 C461.05 141.43 461.28 146.05 461.80 148.60 C462.32 151.15 463.27 153.12 464.00 155.30 C464.73 157.48 465.47 159.50 466.20 161.70 C466.93 163.90 467.58 166.72 468.40 168.50 C469.22 170.28 470.02 171.28 471.10 172.40 C472.18 173.52 473.35 174.37 474.90 175.20 C476.45 176.03 478.58 176.95 480.40 177.40 C482.22 177.85 484.32 177.98 485.80 177.90 C487.28 177.82 488.58 178.38 489.30 176.90 C490.02 175.42 489.88 171.82 490.10 169.00 C490.32 166.18 490.52 161.50 490.60 160.00 C490.47 156.83 489.93 144.17 489.80 141.00 C490.00 141.50 490.80 143.50 491.00 144.00 C491.25 144.67 492.08 146.50 492.50 148.00 C492.92 149.50 493.07 151.33 493.50 153.00 C493.93 154.67 494.57 156.12 495.10 158.00 C495.63 159.88 496.07 162.53 496.70 164.30 C497.33 166.07 497.98 167.32 498.90 168.60 C499.82 169.88 500.93 171.00 502.20 172.00 C503.47 173.00 505.08 173.83 506.50 174.60 C507.92 175.37 510.00 176.27 510.70 176.60" stroke="#969696"/>
<path d="M340.40 75.00 C340.48 84.17 340.82 120.83 340.90 130.00 C341.00 133.72 341.23 147.72 341.50 152.30 C341.77 156.88 342.05 155.90 342.50 157.50 C342.95 159.10 343.47 160.72 344.20 161.90 C344.93 163.08 346.00 163.95 346.90 164.60 C347.80 165.25 348.68 165.33 349.60 165.80 C350.52 166.27 351.40 166.97 352.40 167.40 C353.40 167.83 354.52 168.15 355.60 168.40 C356.68 168.65 357.80 168.95 358.90 168.90 C360.00 168.85 361.10 168.35 362.20 168.10 C363.30 167.85 364.62 167.72 365.50 167.40 C366.38 167.08 367.00 167.27 367.50 166.20 C368.00 165.13 368.22 163.70 368.50 161.00 C368.78 158.30 369.08 151.83 369.20 150.00 C369.33 138.67 369.87 93.33 370.00 82.00 C370.10 90.83 370.50 126.17 370.60 135.00 C370.73 137.50 371.08 146.92 371.40 150.00 C371.72 153.08 372.13 152.42 372.50 153.50 C372.87 154.58 373.05 155.47 373.60 156.50 C374.15 157.53 375.15 158.97 375.80 159.70 C376.45 160.43 376.87 160.52 377.50 160.90 C378.13 161.28 378.70 161.55 379.60 162.00 C380.50 162.45 381.62 163.07 382.90 163.60 C384.18 164.13 385.85 164.85 387.30 165.20 C388.75 165.55 390.42 165.67 391.60 165.70 C392.78 165.73 393.45 165.80 394.40 165.40 C395.35 165.00 396.55 164.03 397.30 163.30 C398.05 162.57 398.53 163.22 398.90 161.00 C399.27 158.78 399.40 151.83 399.50 150.00 C399.58 141.67 399.92 108.33 400.00 100.00 C400.08 106.67 400.42 133.33 400.50 140.00 C400.62 141.00 400.92 144.12 401.20 146.00 C401.48 147.88 401.77 149.72 402.20 151.30 C402.63 152.88 403.17 154.25 403.80 155.50 C404.43 156.75 405.27 158.15 406.00 158.80 C406.73 159.45 407.57 159.38 408.20 159.40 C408.83 159.42 409.25 158.73 409.80 158.90 C410.35 159.07 410.68 159.78 411.50 160.40 C412.32 161.02 413.43 161.87 414.70 162.60 C415.97 163.33 417.63 164.43 419.10 164.80 C420.57 165.17 422.08 165.05 423.50 164.80 C424.92 164.55 426.72 163.93 427.60 163.30 C428.48 162.67 428.50 163.22 428.80 161.00 C429.10 158.78 429.30 151.83 429.40 150.00 C429.50 145.25 429.90 126.25 430.00 121.50 C430.13 124.25 430.67 135.25 430.80 138.00 C430.93 139.17 431.28 142.78 431.60 145.00 C431.92 147.22 432.05 149.37 432.70 151.30 C433.35 153.23 434.68 155.43 435.50 156.60 C436.32 157.77 436.88 157.92 437.60 158.30 C438.32 158.68 438.88 158.45 439.80 158.90 C440.72 159.35 441.82 160.28 443.10 161.00 C444.38 161.72 446.05 162.65 447.50 163.20 C448.95 163.75 450.50 164.43 451.80 164.30 C453.10 164.17 454.45 163.27 455.30 162.40 C456.15 161.53 456.45 161.00 456.90 159.10 C457.35 157.20 457.68 154.18 458.00 151.00 C458.32 147.82 458.67 141.83 458.80 140.00 C458.93 138.67 459.47 133.33 459.60 132.00 C459.87 132.83 460.93 136.17 461.20 137.00 C461.43 137.83 462.20 140.08 462.60 142.00 C463.00 143.92 463.18 146.67 463.60 148.50 C464.02 150.33 464.30 151.80 465.10 153.00 C465.90 154.20 467.50 155.07 468.40 155.70 C469.30 156.33 469.60 156.25 470.50 156.80 C471.40 157.35 472.52 158.27 473.80 159.00 C475.08 159.73 476.75 160.65 478.20 161.20 C479.65 161.75 481.27 162.20 482.50 162.30 C483.73 162.40 484.78 162.43 485.60 161.80 C486.42 161.17 486.93 160.30 487.40 158.50 C487.87 156.70 488.13 153.58 488.40 151.00 C488.67 148.42 488.90 144.33 489.00 143.00 C489.10 142.17 489.50 138.83 489.60 138.00 C489.87 138.50 490.93 140.50 491.20 141.00 C491.43 141.83 492.20 144.42 492.60 146.00 C493.00 147.58 493.27 149.33 493.60 150.50 C493.93 151.67 493.90 152.22 494.60 153.00 C495.30 153.78 496.90 154.65 497.80 155.20 C498.70 155.75 499.08 155.67 500.00 156.30 C500.92 156.93 502.03 158.18 503.30 159.00 C504.57 159.82 506.37 160.75 507.60 161.20 C508.83 161.65 510.18 161.62 510.70 161.70" stroke="#ff2a2a"/>
<path d="M340.40 70.00 C340.48 79.17 340.82 115.83 340.90 125.00 C341.00 128.83 341.05 143.33 341.50 148.00 C341.95 152.67 343.05 151.63 343.60 153.00 C344.15 154.37 344.42 155.50 344.80 156.20 C345.18 156.90 345.55 156.97 345.90 157.20 C346.25 157.43 346.55 157.75 346.90 157.60 C347.25 157.45 347.55 156.23 348.00 156.30 C348.45 156.37 348.87 157.43 349.60 158.00 C350.33 158.57 351.22 159.23 352.40 159.70 C353.58 160.17 355.25 160.53 356.70 160.80 C358.15 161.07 359.82 161.37 361.10 161.30 C362.38 161.23 363.40 160.85 364.40 160.40 C365.40 159.95 366.47 159.27 367.10 158.60 C367.73 157.93 367.85 158.67 368.20 156.40 C368.55 154.13 369.03 146.90 369.20 145.00 C369.33 134.23 369.87 91.17 370.00 80.40 C370.08 88.67 370.42 121.73 370.50 130.00 C370.57 132.47 370.47 141.60 370.90 144.80 C371.33 148.00 372.37 147.93 373.10 149.20 C373.83 150.47 374.40 151.57 375.30 152.40 C376.20 153.23 377.42 153.65 378.50 154.20 C379.58 154.75 380.80 155.30 381.80 155.70 C382.80 156.10 383.40 156.22 384.50 156.60 C385.60 156.98 387.03 157.68 388.40 158.00 C389.77 158.32 391.52 158.50 392.70 158.50 C393.88 158.50 394.73 158.15 395.50 158.00 C396.27 157.85 396.82 158.18 397.30 157.60 C397.78 157.02 398.07 157.43 398.40 154.50 C398.73 151.57 399.15 142.42 399.30 140.00 C399.42 132.82 399.88 104.08 400.00 96.90 C400.18 102.63 400.92 125.57 401.10 131.30 C401.37 132.55 402.07 136.38 402.70 138.80 C403.33 141.22 404.17 144.17 404.90 145.80 C405.63 147.43 406.37 148.00 407.10 148.60 C407.83 149.20 408.57 149.02 409.30 149.40 C410.03 149.78 410.60 150.38 411.50 150.90 C412.40 151.42 413.62 152.05 414.70 152.50 C415.78 152.95 416.90 153.18 418.00 153.60 C419.10 154.02 420.07 154.85 421.30 155.00 C422.53 155.15 424.42 154.93 425.40 154.50 C426.38 154.07 426.67 153.98 427.20 152.40 C427.73 150.82 428.23 148.73 428.60 145.00 C428.97 141.27 429.27 132.50 429.40 130.00 C429.50 127.60 429.90 118.00 430.00 115.60 C430.18 118.58 430.92 130.52 431.10 133.50 C431.28 134.75 431.75 139.02 432.20 141.00 C432.65 142.98 433.17 144.38 433.80 145.40 C434.43 146.42 435.18 146.63 436.00 147.10 C436.82 147.57 437.88 147.77 438.70 148.20 C439.52 148.63 439.98 149.17 440.90 149.70 C441.82 150.23 442.93 150.93 444.20 151.40 C445.47 151.87 447.20 152.08 448.50 152.50 C449.80 152.92 450.68 153.72 452.00 153.90 C453.32 154.08 455.47 154.28 456.40 153.60 C457.33 152.92 457.27 152.07 457.60 149.80 C457.93 147.53 458.27 141.63 458.40 140.00 C458.60 137.85 459.40 129.25 459.60 127.10 C459.97 128.10 461.43 132.10 461.80 133.10 C462.17 134.17 463.27 137.38 464.00 139.50 C464.73 141.62 465.28 144.35 466.20 145.80 C467.12 147.25 468.23 147.37 469.50 148.20 C470.77 149.03 472.17 150.10 473.80 150.80 C475.43 151.50 477.67 151.95 479.30 152.40 C480.93 152.85 482.33 153.50 483.60 153.50 C484.87 153.50 486.17 153.22 486.90 152.40 C487.63 151.58 487.68 150.67 488.00 148.60 C488.32 146.53 488.67 141.43 488.80 140.00 C488.93 138.85 489.47 134.25 489.60 133.10 C490.07 134.00 491.93 137.60 492.40 138.50 C492.67 139.17 493.47 141.27 494.00 142.50 C494.53 143.73 494.78 144.88 495.60 145.90 C496.42 146.92 497.62 147.87 498.90 148.60 C500.18 149.33 501.67 149.75 503.30 150.30 C504.93 150.85 507.47 151.55 508.70 151.90 C509.93 152.25 510.37 152.32 510.70 152.40" stroke="#33ee33"/>
<path d="M340.30 68.70 C340.35 77.25 340.55 111.45 340.60 120.00 C340.65 123.75 340.67 138.00 340.90 142.50 C341.13 147.00 341.55 145.62 342.00 147.00 C342.45 148.38 342.97 149.80 343.60 150.80 C344.23 151.80 344.70 152.43 345.80 153.00 C346.90 153.57 348.57 153.83 350.20 154.20 C351.83 154.57 353.78 154.93 355.60 155.20 C357.42 155.47 359.28 155.60 361.10 155.80 C362.92 156.00 365.32 156.13 366.50 156.40 C367.68 156.67 367.75 158.47 368.20 157.40 C368.65 156.33 369.03 151.23 369.20 150.00 C369.33 138.40 369.87 92.00 370.00 80.40 C370.07 87.83 370.33 117.57 370.40 125.00 C370.48 127.57 370.55 137.10 370.90 140.40 C371.25 143.70 371.87 143.52 372.50 144.80 C373.13 146.08 373.97 147.35 374.70 148.10 C375.43 148.85 376.27 148.85 376.90 149.30 C377.53 149.75 377.68 150.37 378.50 150.80 C379.32 151.23 380.33 151.53 381.80 151.90 C383.27 152.27 385.48 152.73 387.30 153.00 C389.12 153.27 391.03 153.33 392.70 153.50 C394.37 153.67 396.32 154.25 397.30 154.00 C398.28 153.75 398.25 154.33 398.60 152.00 C398.95 149.67 399.27 142.00 399.40 140.00 C399.50 133.18 399.90 105.92 400.00 99.10 C400.03 103.42 400.17 120.68 400.20 125.00 C400.23 127.30 400.17 135.58 400.40 138.80 C400.63 142.02 401.03 142.85 401.60 144.30 C402.17 145.75 402.88 146.60 403.80 147.50 C404.72 148.40 405.82 149.03 407.10 149.70 C408.38 150.37 410.05 151.08 411.50 151.50 C412.95 151.92 414.17 152.02 415.80 152.20 C417.43 152.38 419.50 152.53 421.30 152.60 C423.10 152.67 425.43 153.03 426.60 152.60 C427.77 152.17 427.85 152.43 428.30 150.00 C428.75 147.57 429.13 140.00 429.30 138.00 C429.42 135.25 429.88 124.25 430.00 121.50 C430.18 124.38 430.92 135.92 431.10 138.80 C431.37 139.72 432.07 142.90 432.70 144.30 C433.33 145.70 434.08 146.48 434.90 147.20 C435.72 147.92 436.60 148.08 437.60 148.60 C438.60 149.12 439.62 149.85 440.90 150.30 C442.18 150.75 443.67 150.98 445.30 151.30 C446.93 151.62 448.85 152.02 450.70 152.20 C452.55 152.38 455.25 152.80 456.40 152.40 C457.55 152.00 457.17 151.53 457.60 149.80 C458.03 148.07 458.77 143.30 459.00 142.00 C459.25 141.42 460.25 139.08 460.50 138.50 C460.75 139.00 461.75 141.00 462.00 141.50 C462.25 142.08 462.62 143.82 463.50 145.00 C464.38 146.18 465.95 147.72 467.30 148.60 C468.65 149.48 470.15 149.83 471.60 150.30 C473.05 150.77 474.35 151.13 476.00 151.40 C477.65 151.67 479.68 151.82 481.50 151.90 C483.32 151.98 485.67 152.08 486.90 151.90 C488.13 151.72 488.45 151.95 488.90 150.80 C489.35 149.65 489.48 145.97 489.60 145.00 C489.70 144.28 490.10 141.42 490.20 140.70 C490.47 141.17 491.53 143.03 491.80 143.50 C492.08 143.98 492.50 145.55 493.50 146.40 C494.50 147.25 496.17 147.87 497.80 148.60 C499.43 149.33 501.48 150.25 503.30 150.80 C505.12 151.35 507.47 151.68 508.70 151.90 C509.93 152.12 510.37 152.07 510.70 152.10" stroke="#ff33ff"/>
</g>
<text x="333.30" y="211.70" font-size="10.70" fill="#222" text-anchor="end" font-weight="normal" stroke="#222" stroke-width="0.2">0</text>
<text x="333.30" y="181.52" font-size="10.70" fill="#222" text-anchor="end" font-weight="normal" stroke="#222" stroke-width="0.2">40</text>
<text x="333.30" y="151.34" font-size="10.70" fill="#222" text-anchor="end" font-weight="normal" stroke="#222" stroke-width="0.2">80</text>
<text x="333.30" y="121.16" font-size="10.70" fill="#222" text-anchor="end" font-weight="normal" stroke="#222" stroke-width="0.2">120</text>
<text x="333.30" y="90.98" font-size="10.70" fill="#222" text-anchor="end" font-weight="normal" stroke="#222" stroke-width="0.2">160</text>
<text x="333.30" y="60.80" font-size="10.70" fill="#222" text-anchor="end" font-weight="normal" stroke="#222" stroke-width="0.2">200</text>
<text x="339.80" y="222.40" font-size="10.70" fill="#222" text-anchor="middle" font-weight="normal" stroke="#222" stroke-width="0.2">0</text>
<text x="373.80" y="222.40" font-size="10.70" fill="#222" text-anchor="middle" font-weight="normal" stroke="#222" stroke-width="0.2">20</text>
<text x="407.80" y="222.40" font-size="10.70" fill="#222" text-anchor="middle" font-weight="normal" stroke="#222" stroke-width="0.2">40</text>
<text x="441.80" y="222.40" font-size="10.70" fill="#222" text-anchor="middle" font-weight="normal" stroke="#222" stroke-width="0.2">60</text>
<text x="475.80" y="222.40" font-size="10.70" fill="#222" text-anchor="middle" font-weight="normal" stroke="#222" stroke-width="0.2">80</text>
<text x="509.80" y="222.40" font-size="10.70" fill="#222" text-anchor="middle" font-weight="normal" stroke="#222" stroke-width="0.2">100</text>
<text x="433.20" y="234.30" font-size="12.20" fill="#222" text-anchor="middle" font-weight="normal" stroke="#222" stroke-width="0.2">Time (S)</text>
<text x="0.00" y="0.00" font-size="12.00" fill="#222" text-anchor="middle" font-weight="normal" transform="translate(313.3,131.85) rotate(-90)" stroke="#222" stroke-width="0.2">Temperature (°C)</text>
<text transform="translate(407.95,81.80) scale(0.850,1)" font-size="15.50" font-weight="bold" fill="#000">T</text><text x="416.85" y="83.20" font-size="9.20" font-weight="bold" fill="#000">c</text>
<text transform="translate(529.15,162.00) scale(0.860,1)" font-size="14.80" font-weight="bold" fill="#000">T</text><text x="537.20" y="163.80" font-size="9.50" font-weight="bold" fill="#000">g</text>
<text x="517.4" y="196.7" font-size="14" font-weight="bold" fill="#ff0000">(b)</text>
<rect x="432.3" y="56.6" width="108.3" height="39.5" fill="#fff" stroke="#999" stroke-width="0.8"/>
<path d="M433.3 61.30 H450.8" stroke="#a3a3a3" stroke-width="1.1"/>
<text x="453.00" y="64.10" font-size="7.80" fill="#222" text-anchor="start" font-weight="normal" stroke="#222" stroke-width="0.12">Bed temperature = 25°C</text>
<path d="M433.3 71.30 H450.8" stroke="#ff2a2a" stroke-width="1.1"/>
<text x="453.00" y="74.10" font-size="7.80" fill="#222" text-anchor="start" font-weight="normal" stroke="#222" stroke-width="0.12">Bed temperature = 50°C</text>
<path d="M433.3 81.10 H450.8" stroke="#33ee33" stroke-width="1.1"/>
<text x="453.00" y="83.90" font-size="7.80" fill="#222" text-anchor="start" font-weight="normal" stroke="#222" stroke-width="0.12">Bed temperature = 70°C</text>
<path d="M433.3 90.70 H450.8" stroke="#ff33ff" stroke-width="1.1"/>
<text x="453.00" y="93.50" font-size="7.80" fill="#222" text-anchor="start" font-weight="normal" stroke="#222" stroke-width="0.12">Bed temperature = 90°C</text>
</svg></body></html>
